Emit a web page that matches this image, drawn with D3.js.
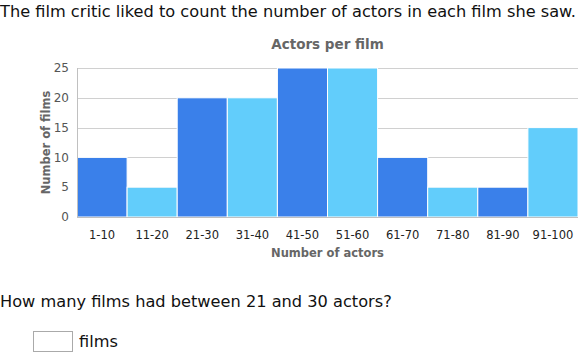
<!DOCTYPE html>
<html>
<head>
<meta charset="utf-8">
<script src="https://cdn.jsdelivr.net/npm/d3@7"></script>
<style>
  body { margin: 0; font-family: "DejaVu Sans", Verdana, sans-serif; background: #fff; }
  .intro { position: absolute; left: 0; top: 2px; font-size: 16.2px; white-space: nowrap; color: #111; }
  .question { position: absolute; left: 0; top: 292px; font-size: 16.2px; white-space: nowrap; color: #111; }
  .box { position: absolute; left: 33px; top: 331px; width: 38px; height: 19px; border: 1px solid #aaa; }
  .unit { position: absolute; left: 79px; top: 332px; font-size: 16.2px; color: #111; }
  svg { position: absolute; left: 0; top: 0; }
</style>
</head>
<body>
<div class="intro">The film critic liked to count the number of actors in each film she saw.</div>
<div id="chart"></div>
<div class="question">How many films had between 21 and 30 actors?</div>
<div class="box"></div><div class="unit">films</div>
<script>
const categories = ["1-10", "11-20", "21-30", "31-40", "41-50", "51-60", "61-70", "71-80", "81-90", "91-100"];
const films = [10, 5, 20, 20, 25, 25, 10, 5, 5, 15];
const yTicks = [0, 5, 10, 15, 20, 25];

const width = 579, height = 280;
const margin = { top: 68, right: 1, bottom: 63, left: 77 };
const chartWidth = width - margin.left - margin.right;
const chartHeight = height - margin.top - margin.bottom;

const svg = d3.select("#chart").append("svg")
    .attr("width", width)
    .attr("height", height);

const g = svg.append("g")
    .attr("transform", `translate(${margin.left},${margin.top})`);

const x = d3.scaleBand()
    .domain(categories)
    .range([0, chartWidth])
    .padding(0);

const y = d3.scaleLinear()
    .domain([0, 25])
    .range([chartHeight, 0]);

// Gridlines
g.selectAll("line.grid")
    .data(yTicks)
    .enter()
    .append("line")
    .attr("class", "grid")
    .attr("x1", 0)
    .attr("x2", chartWidth)
    .attr("y1", d => Math.round(y(d)) + 0.5)
    .attr("y2", d => Math.round(y(d)) + 0.5)
    .attr("stroke", "#d0d0d0");

// Bars, alternating colours
g.selectAll("rect.bar")
    .data(films)
    .enter()
    .append("rect")
    .attr("class", "bar")
    .attr("x", (d, i) => x(categories[i]))
    .attr("y", d => y(d))
    .attr("width", x.bandwidth())
    .attr("height", d => chartHeight - y(d))
    .attr("fill", (d, i) => i % 2 === 0 ? "#3a80ea" : "#62cdfb")
    .attr("stroke", "#fff")
    .attr("stroke-width", 1);

// Axis lines
g.append("line")
    .attr("x1", 0.5).attr("x2", 0.5)
    .attr("y1", 0).attr("y2", chartHeight)
    .attr("stroke", "#c0c0c0");
g.append("line")
    .attr("x1", 0).attr("x2", chartWidth)
    .attr("y1", chartHeight + 0.5).attr("y2", chartHeight + 0.5)
    .attr("stroke", "#c0c0c0");

// Y tick labels
g.selectAll("text.ytick")
    .data(yTicks)
    .enter()
    .append("text")
    .attr("class", "ytick")
    .attr("x", -8)
    .attr("y", d => y(d))
    .attr("dy", "0.35em")
    .attr("text-anchor", "end")
    .attr("fill", "#555")
    .style("font-size", "12px")
    .text(d => d);

// X tick labels
g.selectAll("text.xtick")
    .data(categories)
    .enter()
    .append("text")
    .attr("class", "xtick")
    .attr("x", d => x(d) + x.bandwidth() / 2)
    .attr("y", chartHeight + 22)
    .attr("text-anchor", "middle")
    .attr("fill", "#222")
    .style("font-size", "11.5px")
    .text(d => d);

// Titles
svg.append("text")
    .attr("x", margin.left + chartWidth / 2)
    .attr("y", 49)
    .attr("text-anchor", "middle")
    .attr("fill", "#666")
    .style("font-size", "13.5px")
    .style("font-weight", "bold")
    .text("Actors per film");

svg.append("text")
    .attr("x", margin.left + chartWidth / 2)
    .attr("y", 257)
    .attr("text-anchor", "middle")
    .attr("fill", "#666")
    .style("font-size", "11.5px")
    .style("font-weight", "bold")
    .text("Number of actors");

svg.append("text")
    .attr("transform", `translate(50,${margin.top + chartHeight / 2}) rotate(-90)`)
    .attr("text-anchor", "middle")
    .attr("fill", "#666")
    .style("font-size", "11.5px")
    .style("font-weight", "bold")
    .text("Number of films");
</script>
</body>
</html>
